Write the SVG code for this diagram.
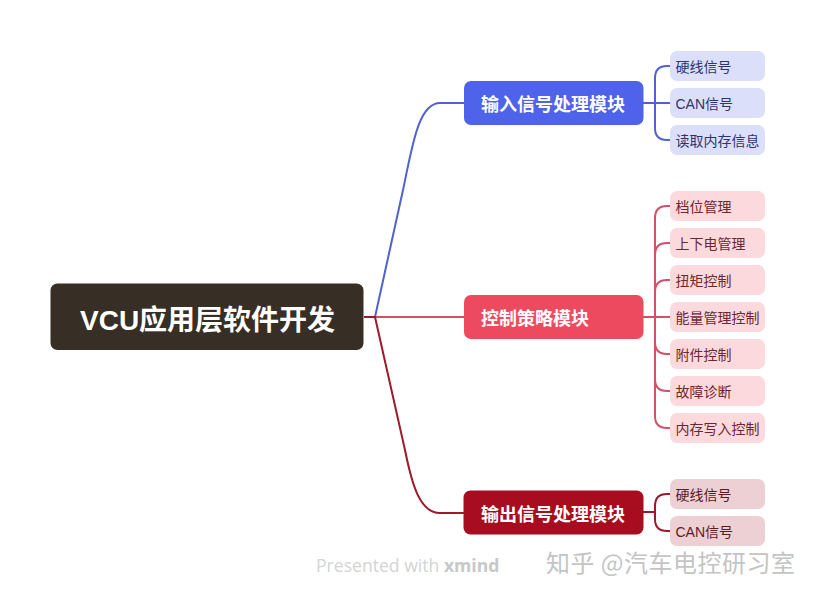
<svg xmlns="http://www.w3.org/2000/svg" width="816" height="597" viewBox="0 0 816 597">
<style>
text{font-family:"Liberation Sans","Noto Sans CJK SC",sans-serif}
.cjk{font-family:"Noto Sans CJK SC","Liberation Sans",sans-serif}
.branch{font-size:18px;font-weight:700;fill:#fff}
.leaf{font-size:14px}
.blue .leaf{fill:#2f3370}.red .leaf{fill:#6e2630}.dark .leaf{fill:#5c1a24}
.blue rect.l{fill:#dcdffa}.red rect.l{fill:#fbd9dc}.dark rect.l{fill:#edd0d3}
.c{fill:none;stroke-width:2}
.cb{stroke:#5061d0}.cr{stroke:#d2506a}.cd{stroke:#9c1a2c}
</style>
<rect width="816" height="597" fill="#fff"/>
<g id="connectors">
<path class="c cb" d="M375 317L403 190C412 148 418 103 440 103H464"/>
<path class="c cr" d="M364 317H464"/>
<path class="c cd" d="M364 317H375L405 450C412 485 420 513 440 513H464"/>
<path class="c cb" d="M643 103H670M655 103V78Q655 66 667 66H670M655 103V128Q655 140 667 140H670"/>
<path class="c cr" d="M643 317H670M655 317V218Q655 206 667 206H670M655 255Q655 243 667 243H670M655 292Q655 280 667 280H670M655 317V416Q655 428 667 428H670M655 379Q655 391 667 391H670M655 342Q655 354 667 354H670"/>
<path class="c cd" d="M643 512H655M655 512V506Q655 494 667 494H670M655 512V519Q655 531 667 531H670"/>
</g>
<g id="root"><rect x="50.500" y="283.500" width="313" height="66.500" rx="7" fill="#372e25"/><text x="80" y="330" font-size="28" font-weight="700" fill="#fff">VCU应用层软件开发</text></g>
<g id="b1" class="blue"><rect x="464" y="81" width="179.500" height="44" rx="7" fill="#4f62ea"/><text class="branch" x="481" y="111">输入信号处理模块</text></g>
<g id="b2" class="red"><rect x="464" y="295" width="179.500" height="44" rx="7" fill="#ee4a5f"/><text class="branch" x="481" y="325">控制策略模块</text></g>
<g id="b3" class="dark"><rect x="463.500" y="490.500" width="180" height="44" rx="7" fill="#a80d1f"/><text class="branch" x="481" y="521">输出信号处理模块</text></g>
<g id="l1" class="blue"><rect class="l" x="670" y="51" width="95" height="30" rx="7"/><text class="leaf" x="675.500" y="72">硬线信号</text></g>
<g id="l2" class="blue"><rect class="l" x="670" y="88" width="95" height="30" rx="7"/><text class="leaf" x="675.500" y="109">CAN信号</text></g>
<g id="l3" class="blue"><rect class="l" x="670" y="125" width="95" height="30" rx="7"/><text class="leaf" x="675.500" y="146">读取内存信息</text></g>
<g id="l4" class="red"><rect class="l" x="670" y="191" width="95" height="30" rx="7"/><text class="leaf" x="675.500" y="212">档位管理</text></g>
<g id="l5" class="red"><rect class="l" x="670" y="228" width="95" height="30" rx="7"/><text class="leaf" x="675.500" y="249">上下电管理</text></g>
<g id="l6" class="red"><rect class="l" x="670" y="265" width="95" height="30" rx="7"/><text class="leaf" x="675.500" y="286">扭矩控制</text></g>
<g id="l7" class="red"><rect class="l" x="670" y="302" width="95" height="30" rx="7"/><text class="leaf" x="675.500" y="323">能量管理控制</text></g>
<g id="l8" class="red"><rect class="l" x="670" y="339" width="95" height="30" rx="7"/><text class="leaf" x="675.500" y="360">附件控制</text></g>
<g id="l9" class="red"><rect class="l" x="670" y="376" width="95" height="30" rx="7"/><text class="leaf" x="675.500" y="397">故障诊断</text></g>
<g id="l10" class="red"><rect class="l" x="670" y="413" width="95" height="30" rx="7"/><text class="leaf" x="675.500" y="434">内存写入控制</text></g>
<g id="l11" class="dark"><rect class="l" x="670" y="479" width="95" height="30" rx="7"/><text class="leaf" x="675.500" y="500">硬线信号</text></g>
<g id="l12" class="dark"><rect class="l" x="670" y="516" width="95" height="30" rx="7"/><text class="leaf" x="675.500" y="537">CAN信号</text></g>
<text x="316" y="572" font-size="17.600" fill="#d4d4d4" style="font-family:'Open Sans','Liberation Sans',sans-serif">Presented with <tspan font-weight="700" fill="#c8c8c8">xmind</tspan></text>
<text x="546" y="572" font-size="24" fill="#c4c4c4" class="cjk" textLength="249">知乎 @汽车电控研习室</text>
</svg>
